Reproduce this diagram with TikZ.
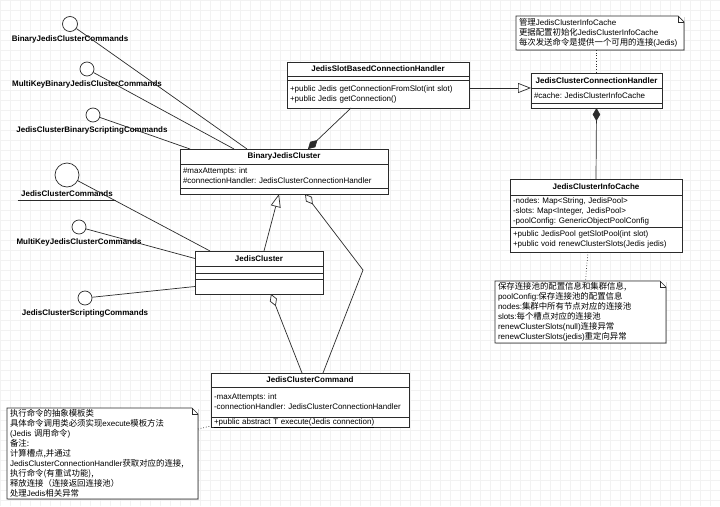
\documentclass[tikz,border=0pt]{standalone}
\usepackage{fontspec}
\setmainfont{Liberation Sans}
\newfontfamily\cjk[Scale=1.05]{Noto Sans CJK SC}
\usepackage{tikz}
\usetikzlibrary{arrows.meta,positioning,shadows}
\newcommand\zh[1]{{\cjk #1}}
\newcommand\umlsize{\fontsize{8}{10}\selectfont}
\frenchspacing
\definecolor{uline}{HTML}{2B2B2B}
\definecolor{ugridc}{HTML}{F2F2F2}
\tikzset{
  ugrid/.style={ugridc, line width=0.4pt},
  ushadow/.style={drop shadow={shadow xshift=1.2pt, shadow yshift=-1.2pt,
                  opacity=0.25, fill=black!60}},
  ctitle/.style={draw=uline, fill=white, line width=0.7pt, inner sep=0pt,
                 outer sep=0pt, anchor=north west, font=\umlsize\bfseries, ushadow},
  cpart/.style={draw=uline, fill=white, line width=0.7pt, align=left,
                inner xsep=3pt, inner ysep=0pt, outer sep=0pt, text width=#1, ushadow},
  unote/.style={fill=white, align=left, inner xsep=3pt, inner ysep=0pt,
                outer sep=0pt, anchor=north west, text width=#1, ushadow},
  unoteline/.style={draw=uline, line width=0.7pt, line join=miter},
  iface/.style={circle, draw=uline, fill=white, line width=0.7pt,
                inner sep=0pt, minimum size=14pt},
  ilbl/.style={font=\umlsize\bfseries},
  ulink/.style={uline, line width=0.7pt},
  ucomp/.style={ulink, -{Diamond[fill=uline, length=13pt, width=7.5pt]}},
  uaggr/.style={ulink, -{Diamond[open, length=13pt, width=7.5pt]}},
  ugen/.style={ulink, -{Triangle[open, length=13pt, width=10pt]}},
  udep/.style={ulink, dotted},
}

\begin{document}
\begin{tikzpicture}[x=1pt,y=-1pt,font=\umlsize]

  \useasboundingbox (0,0) rectangle (720,506);
  \fill[white] (0,0) rectangle (720,506);
  \foreach \gx in {0,10,...,720} \draw[ugrid] (\gx,0) -- (\gx,506);
  \foreach \gy in {0,10,...,500} \draw[ugrid] (0,\gy) -- (720,\gy);

  % BinaryJedisCluster
  \node[ctitle, minimum width=208, minimum height=15] (bjc) at (180,149) {BinaryJedisCluster};
  \node[cpart=202pt, minimum height=24, below=0pt of bjc] (bjc-a)
    {\#maxAttempts: int\\\#connectionHandler: JedisClusterConnectionHandler};
  \node[cpart=202pt, minimum height=6, below=0pt of bjc-a] (bjc-m) {};

  % JedisCluster
  \node[ctitle, minimum width=128, minimum height=15] (jc) at (195,251) {JedisCluster};
  \node[cpart=122pt, minimum height=7, below=0pt of jc] (jc-a) {};
  \node[cpart=122pt, minimum height=6, below=0pt of jc-a] (jc-m) {};
  \node[cpart=122pt, minimum height=15, below=0pt of jc-m] (jc-x) {};

  % JedisSlotBasedConnectionHandler
  \node[ctitle, minimum width=182, minimum height=14] (jsb) at (287,62) {JedisSlotBasedConnectionHandler};
  \node[cpart=176pt, minimum height=4, below=0pt of jsb] (jsb-a) {};
  \node[cpart=176pt, minimum height=28, below=0pt of jsb-a] (jsb-m)
    {+public Jedis getConnectionFromSlot(int slot)\\+public Jedis getConnection()};

  % JedisClusterConnectionHandler
  \node[ctitle, minimum width=131, minimum height=15] (jcch) at (531,73) {JedisClusterConnectionHandler};
  \node[cpart=125pt, minimum height=15, below=0pt of jcch] (jcch-a) {\#cache: JedisClusterInfoCache};
  \node[cpart=125pt, minimum height=5, below=0pt of jcch-a] (jcch-m) {};

  % JedisClusterInfoCache
  \node[ctitle, minimum width=172, minimum height=16] (jcic) at (510,179) {JedisClusterInfoCache};
  \node[cpart=166pt, minimum height=32, below=0pt of jcic] (jcic-a)
    {-nodes: Map<String, JedisPool>\\-slots: Map<Integer, JedisPool>\\-poolConfig: GenericObjectPoolConfig};
  \node[cpart=166pt, minimum height=25, below=0pt of jcic-a] (jcic-m)
    {+public JedisPool getSlotPool(int slot)\\+public void renewClusterSlots(Jedis jedis)};

  % JedisClusterCommand
  \node[ctitle, minimum width=198, minimum height=14] (jcc) at (211,373) {JedisClusterCommand};
  \node[cpart=192pt, minimum height=30, below=0pt of jcc] (jcc-a)
    {-maxAttempts: int\\-connectionHandler: JedisClusterConnectionHandler};
  \node[cpart=192pt, minimum height=10, text height=6pt, text depth=2pt,
        below=0pt of jcc-a] (jcc-m)
    {\underline{+public abstract T execute(Jedis connection)}};

  % notes
  \node[unote=162pt, minimum height=34] (n1) at (516,16)
    {\zh{管理}JedisClusterInfoCache\\
     \zh{更据配置初始化}JedisClusterInfoCache\\
     \zh{每次发送命令是提供一个可用的连接}(Jedis)};
  \node[unote=165pt, minimum height=62] (n2) at (495,281)
    {\zh{保存连接池的配置信息和集群信息,}\\
     poolConfig:\zh{保存连接池的配置信息}\\
     nodes:\zh{集群中所有节点对应的连接池}\\
     slots:\zh{每个槽点对应的连接池}\\
     renewClusterSlots(null)\zh{连接异常}\\
     renewClusterSlots(jedis)\zh{重定向异常}};
  \node[unote=185pt, minimum height=91] (n3) at (7,408)
    {\zh{执行命令的抽象模板类}\\
     \zh{具体命令调用类必须实现}execute\zh{模板方法}\\
     (Jedis \zh{调用命令})\\
     \zh{备注:}\\
     \zh{计算槽点,并通过}\\
     JedisClusterConnectionHandler\zh{获取对应的连接,}\\
     \zh{执行命令(有重试功能),}\\
     \zh{释放连接（连接返回连接池）}\\
     \zh{处理}Jedis\zh{相关异常}};
  \foreach \n in {n1,n2,n3} {
    \draw[unoteline] (\n.north west) -- ([xshift=-6pt]\n.north east)
      -- ([yshift=-6pt]\n.north east) -- (\n.south east) -- (\n.south west) -- cycle;
    \draw[unoteline] ([xshift=-6pt]\n.north east) -- ++(0,6) -- ([yshift=-6pt]\n.north east);
  }

  % interfaces
  \node[iface, minimum size=15pt] (i1) at (70,24) {};
  \node[ilbl] (i1-l) at (70,39) {BinaryJedisClusterCommands};
  \node[iface] (i2) at (87,69) {};
  \node[ilbl] (i2-l) at (87,84) {MultiKeyBinaryJedisClusterCommands};
  \node[iface] (i3) at (93,115) {};
  \node[ilbl] (i3-l) at (92,130) {JedisClusterBinaryScriptingCommands};
  \node[iface, minimum size=24pt] (i4) at (67,175) {};
  \node[ilbl] (i4-l) at (67,194) {JedisClusterCommands};
  \node[iface] (i5) at (79,227) {};
  \node[ilbl] (i5-l) at (79,242) {MultiKeyJedisClusterCommands};
  \node[iface] (i6) at (85,298) {};
  \node[ilbl] (i6-l) at (85,313) {JedisClusterScriptingCommands};
  \draw[ulink] (i4-l.south west) -- (i4-l.south east);

  \draw[ulink] (i1) -- ([xshift=67pt]bjc.north west);
  \draw[ulink] (i2) -- ([xshift=54pt]bjc.north west);
  \draw[ulink] (i3) -- ([xshift=10pt]bjc.north west);
  \draw[ulink] (i4) -- ([xshift=15pt]jc.north west);
  \draw[ulink] (i5) -- (jc.west);
  \draw[ulink] (i6) -- (jc-x.west);

  % relations
  \draw[ucomp] ([xshift=64pt]jsb-m.south west) -- ([xshift=128pt]bjc.north west);
  \draw[ugen] (jsb-m.east |- jcch.south) -- (jcch.south west);
  \draw[ucomp] (jcic.north) -- (jcch-m.south);
  \draw[ugen] ([xshift=69pt]jc.north west) -- ([xshift=99pt]bjc-m.south west);
  \draw[uaggr] ([xshift=91pt]jcc.north west) -- ([xshift=76pt]jc-x.south west);
  \coordinate (aggbend) at (363,270);
  \draw[uaggr] ([xshift=112pt]jcc.north west) -- (aggbend) -- ([xshift=125pt]bjc-m.south west);

  % note links
  \draw[udep] (n1.south -| jcch.north) -- (jcch.north);
  \draw[udep] ([xshift=-8pt]jcic-m.south) -- ([xshift=5pt]n2.north);
  \draw[udep] ([yshift=-21pt]n3.north east) -- ([yshift=-4pt]jcc-m.west);

\end{tikzpicture}
\end{document}
